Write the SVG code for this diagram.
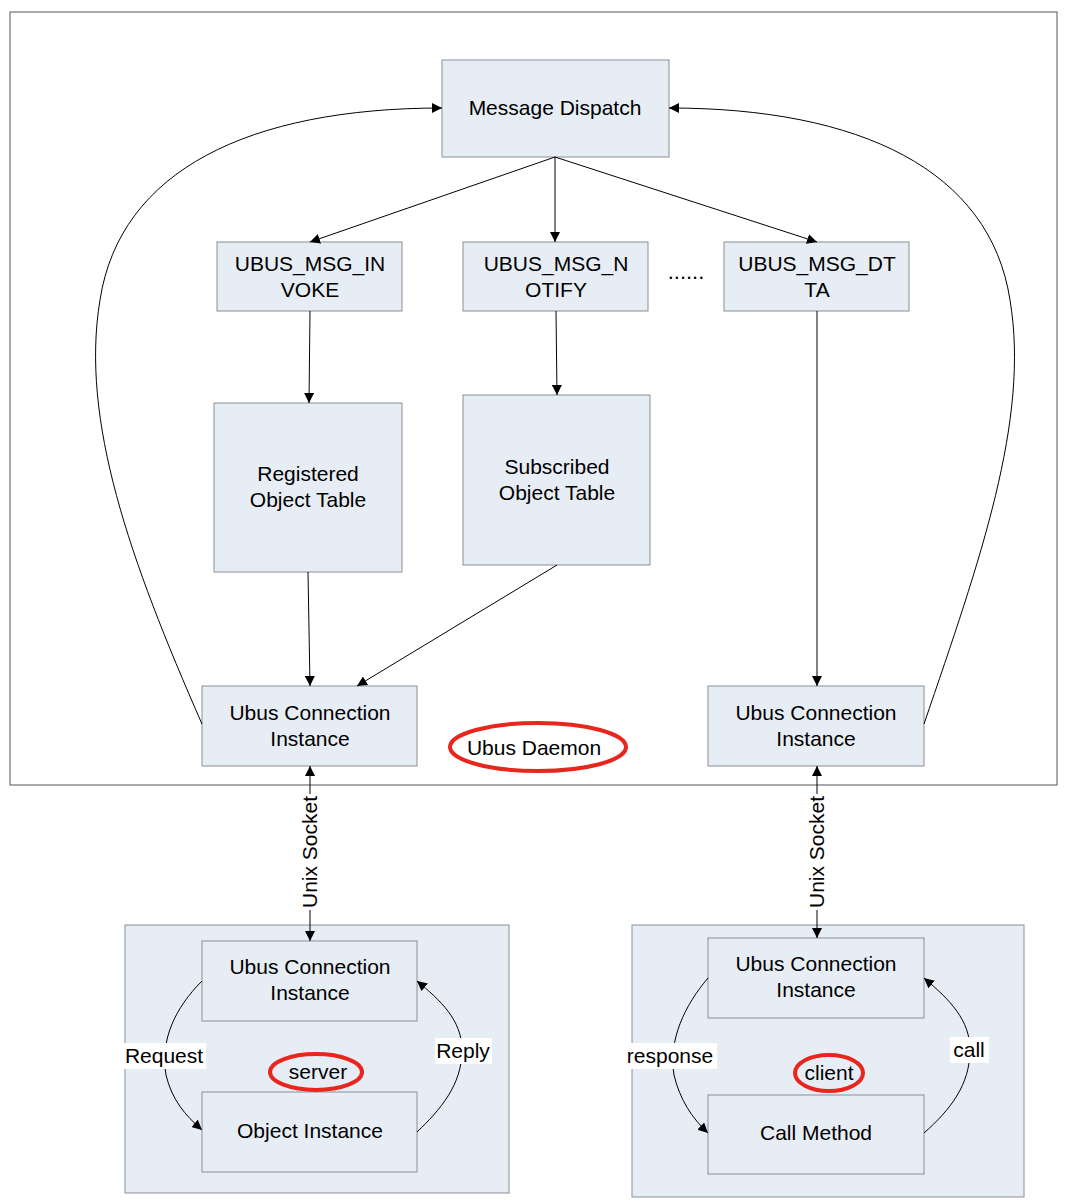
<svg xmlns="http://www.w3.org/2000/svg" width="1070" height="1204" viewBox="0 0 1070 1204">
<style>
.n{fill:#e7edf5;stroke:#8a8f96;stroke-width:1}
.t{font-family:"Liberation Sans",Arial,sans-serif;font-size:21px;fill:#000;text-anchor:middle}
.c{fill:none;stroke:#000;stroke-width:1}
.r{fill:none;stroke:#e8261e;stroke-width:4}
.lb{fill:#fff}
</style>
<defs>
<marker id="a" viewBox="0 0 10 10" refX="10" refY="5" markerWidth="10" markerHeight="10" markerUnits="userSpaceOnUse" orient="auto-start-reverse"><path d="M0,0L10,5L0,10z" fill="#000"/></marker>
</defs>
<rect width="1070" height="1204" fill="#fff"/>
<rect id="daemon" x="10" y="12" width="1047" height="773" fill="#fff" stroke="#555"/>
<g id="serverbox"><rect class="n" x="125" y="925" width="384" height="268"/></g>
<g id="clientbox"><rect class="n" x="632" y="925" width="392" height="272"/></g>
<g id="dispatch"><rect class="n" x="442" y="60" width="227" height="97"/><text class="t" x="555" y="115">Message Dispatch</text></g>
<g id="invoke"><rect class="n" x="217" y="242" width="185" height="69"/><text class="t" x="310" y="271">UBUS_MSG_IN</text><text class="t" x="310" y="297">VOKE</text></g>
<g id="notify"><rect class="n" x="463" y="242" width="185" height="69"/><text class="t" x="556" y="271">UBUS_MSG_N</text><text class="t" x="556" y="297">OTIFY</text></g>
<text class="t" x="686" y="279" style="font-size:22px">......</text>
<g id="dtta"><rect class="n" x="724" y="242" width="185" height="69"/><text class="t" x="817" y="271">UBUS_MSG_DT</text><text class="t" x="817" y="297">TA</text></g>
<g id="registered"><rect class="n" x="214" y="403" width="188" height="169"/><text class="t" x="308" y="481">Registered</text><text class="t" x="308" y="507">Object Table</text></g>
<g id="subscribed"><rect class="n" x="463" y="395" width="187" height="170"/><text class="t" x="557" y="474">Subscribed</text><text class="t" x="557" y="500">Object Table</text></g>
<g id="connL"><rect class="n" x="202" y="686" width="215" height="80"/><text class="t" x="310" y="720">Ubus Connection</text><text class="t" x="310" y="746">Instance</text></g>
<g id="connR"><rect class="n" x="708" y="686" width="216" height="80"/><text class="t" x="816" y="720">Ubus Connection</text><text class="t" x="816" y="746">Instance</text></g>
<g id="daemonlabel"><ellipse class="r" cx="538" cy="747" rx="88" ry="24"/><text class="t" x="534" y="755">Ubus Daemon</text></g>
<g id="sconn"><rect class="n" x="202" y="941" width="215" height="80"/><text class="t" x="310" y="974">Ubus Connection</text><text class="t" x="310" y="1000">Instance</text></g>
<g id="obj"><rect class="n" x="202" y="1092" width="215" height="80"/><text class="t" x="310" y="1138">Object Instance</text></g>
<g id="serverlabel"><ellipse class="r" cx="316" cy="1072" rx="46" ry="18"/><text class="t" x="318" y="1079">server</text></g>
<g id="cconn"><rect class="n" x="708" y="938" width="216" height="80"/><text class="t" x="816" y="971">Ubus Connection</text><text class="t" x="816" y="997">Instance</text></g>
<g id="call"><rect class="n" x="708" y="1095" width="216" height="79"/><text class="t" x="816" y="1140">Call Method</text></g>
<g id="clientlabel"><ellipse class="r" cx="829" cy="1073" rx="34" ry="18"/><text class="t" x="829" y="1080">client</text></g>
<g id="connectors">
<path class="c" d="M555,157L310,242" marker-end="url(#a)"/>
<path class="c" d="M555,157L555,242" marker-end="url(#a)"/>
<path class="c" d="M555,157L817,242" marker-end="url(#a)"/>
<path class="c" d="M310,311L309,403" marker-end="url(#a)"/>
<path class="c" d="M556,311L557,395" marker-end="url(#a)"/>
<path class="c" d="M817,311L817,686" marker-end="url(#a)"/>
<path class="c" d="M308,572L310,686" marker-end="url(#a)"/>
<path class="c" d="M557,565L357,686" marker-end="url(#a)"/>
<path class="c" d="M202,724C130,560 80,420 100,300C120,170 250,108 442,108" marker-end="url(#a)"/>
<path class="c" d="M924,724C980,560 1030,420 1010,300C990,170 860,108 669,108" marker-end="url(#a)"/>
<path class="c" d="M310,766L310,941" marker-start="url(#a)" marker-end="url(#a)"/>
<path class="c" d="M817,766L817,938" marker-start="url(#a)" marker-end="url(#a)"/>
<path class="c" d="M202,981C175,1008 160,1040 166,1075C172,1100 185,1115 202,1130" marker-end="url(#a)"/>
<path class="c" d="M417,1132C440,1110 462,1085 462,1050C462,1020 440,1000 417,981" marker-end="url(#a)"/>
<path class="c" d="M708,978C685,1005 668,1040 674,1075C680,1100 692,1118 708,1133" marker-end="url(#a)"/>
<path class="c" d="M924,1133C950,1110 970,1085 970,1050C970,1020 950,1000 924,978" marker-end="url(#a)"/>
<g transform="translate(310,852) rotate(-90)"><rect class="lb" x="-58" y="-12" width="116" height="22"/><text class="t" x="0" y="7">Unix Socket</text></g>
<g transform="translate(817,852) rotate(-90)"><rect class="lb" x="-58" y="-12" width="116" height="22"/><text class="t" x="0" y="7">Unix Socket</text></g>
<rect class="lb" x="123" y="1043" width="83" height="26"/><text class="t" x="164" y="1063">Request</text>
<rect class="lb" x="435" y="1038" width="57" height="26"/><text class="t" x="463" y="1058">Reply</text>
<rect class="lb" x="623" y="1043" width="94" height="26"/><text class="t" x="670" y="1063">response</text>
<rect class="lb" x="950" y="1037" width="39" height="26"/><text class="t" x="969" y="1057">call</text>
</g>
</svg>
